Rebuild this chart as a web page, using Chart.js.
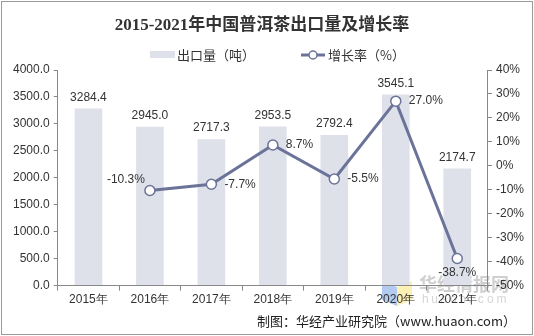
<!DOCTYPE html>
<html>
<head>
<meta charset="utf-8">
<script src="https://cdn.jsdelivr.net/npm/chart.js@4"></script>
<style>
  html, body { margin: 0; padding: 0; background: #fff; }
  canvas { display: block; }
</style>
</head>
<body>
<canvas id="chart" width="534" height="336"></canvas>
<script>
// Data
const years = ['2015年', '2016年', '2017年', '2018年', '2019年', '2020年', '2021年'];
const exportVolume = [3284.4, 2945.0, 2717.3, 2953.5, 2792.4, 3545.1, 2174.7];
const growthRate = [null, -10.3, -7.7, 8.7, -5.5, 27.0, -38.7];
// where each growth label sits relative to its point
const growthLabelPos = ['right', 'leftUp', 'right', 'right', 'right', 'right', 'below'];

const barColor = '#dee1ea';
const lineColor = '#6b7399';
const axisColor = '#888888';
const textColor = '#333333';
const sansFont = '"Liberation Sans", Arial, sans-serif';
const cjkFont = '"Noto Sans CJK SC", sans-serif';

// faint watermark under the axes text
const watermarkPlugin = {
    id: 'watermark',
    beforeDraw(chart) {
        const ctx = chart.ctx;
        ctx.save();
        ctx.fillStyle = '#b3cbf0';
        ctx.beginPath();
        ctx.moveTo(382, 281); ctx.lineTo(397, 287); ctx.lineTo(397, 306); ctx.lineTo(382, 300);
        ctx.closePath(); ctx.fill();
        ctx.fillStyle = '#fcf0b4';
        ctx.beginPath();
        ctx.moveTo(397, 287); ctx.lineTo(412, 281); ctx.lineTo(412, 300); ctx.lineTo(397, 306);
        ctx.closePath(); ctx.fill();
        ctx.fillStyle = '#cfcfcf';
        ctx.font = 'bold 18px ' + cjkFont;
        ctx.textAlign = 'left';
        ctx.textBaseline = 'middle';
        ctx.fillText('华经情报网', 419, 284);
        ctx.font = '12px ' + sansFont;
        ctx.fillStyle = '#d6d6d6';
        'huaon.com'.split('').forEach((ch, i) => ctx.fillText(ch, 422 + i * 9.3, 300));
        ctx.restore();
    }
};

// Title, legend, footer, labels and frame
const decorPlugin = {
    id: 'decor',
    afterDraw(chart) {
        const ctx = chart.ctx;
        ctx.save();
        // frame
        ctx.strokeStyle = '#9a9a9a';
        ctx.lineWidth = 1;
        ctx.strokeRect(1.5, 1.5, 531, 333);

        // title
        ctx.fillStyle = '#333';
        ctx.font = 'bold 17px "Liberation Serif", "Noto Sans CJK SC", serif';
        ctx.textAlign = 'center';
        ctx.textBaseline = 'middle';
        ctx.fillText('2015-2021年中国普洱茶出口量及增长率', 262, 26);

        // legend
        ctx.font = '13px ' + cjkFont;
        ctx.textAlign = 'left';
        ctx.fillStyle = barColor;
        ctx.fillRect(150, 51, 25, 7);
        ctx.fillStyle = textColor;
        ctx.fillText('出口量（吨）', 177, 55);
        ctx.strokeStyle = lineColor;
        ctx.lineWidth = 3;
        ctx.beginPath();
        ctx.moveTo(301, 55);
        ctx.lineTo(325, 55);
        ctx.stroke();
        ctx.fillStyle = '#fff';
        ctx.lineWidth = 1.5;
        ctx.beginPath();
        ctx.arc(313, 55, 4, 0, Math.PI * 2);
        ctx.fill();
        ctx.stroke();
        ctx.fillStyle = textColor;
        ctx.fillText('增长率（%）', 328, 55);

        // bar value labels
        ctx.font = '12px ' + sansFont;
        ctx.textAlign = 'center';
        ctx.textBaseline = 'bottom';
        chart.getDatasetMeta(0).data.forEach((bar, i) => {
            ctx.fillText(exportVolume[i].toFixed(1), bar.x, bar.y - 5);
        });
        // line value labels
        ctx.textBaseline = 'middle';
        chart.getDatasetMeta(1).data.forEach((pt, i) => {
            if (growthRate[i] === null) return;
            const txt = growthRate[i].toFixed(1) + '%';
            const pos = growthLabelPos[i];
            if (pos === 'leftUp') {
                ctx.textAlign = 'right';
                ctx.fillText(txt, pt.x - 5, pt.y - 11);
            } else if (pos === 'below') {
                ctx.textAlign = 'center';
                ctx.fillText(txt, pt.x, pt.y + 14);
            } else {
                ctx.textAlign = 'left';
                ctx.fillText(txt, pt.x + 13, pt.y);
            }
        });

        // footer
        ctx.font = '13px ' + cjkFont;
        ctx.textAlign = 'right';
        ctx.fillStyle = '#222';
        ctx.fillText('制图：华经产业研究院（www.huaon.com）', 516, 321);
        ctx.restore();
    }
};

new Chart(document.getElementById('chart'), {
    type: 'bar',
    data: {
        labels: years,
        datasets: [
            {
                type: 'bar',
                label: '出口量（吨）',
                data: exportVolume,
                backgroundColor: barColor,
                barPercentage: 0.45,
                categoryPercentage: 1,
                yAxisID: 'y',
                order: 2
            },
            {
                type: 'line',
                label: '增长率（%）',
                data: growthRate,
                borderColor: lineColor,
                borderWidth: 3,
                pointRadius: 5,
                pointBorderWidth: 1.5,
                pointBackgroundColor: '#fff',
                pointBorderColor: lineColor,
                tension: 0,
                yAxisID: 'y1',
                order: 1
            }
        ]
    },
    options: {
        responsive: false,
        animation: false,
        layout: { padding: { top: 70, left: 9, right: 6, bottom: 27 } },
        plugins: {
            legend: { display: false },
            title: { display: false },
            tooltip: { enabled: false }
        },
        scales: {
            x: {
                grid: { display: true, drawOnChartArea: false, color: axisColor, tickLength: 5, offset: true },
                border: { color: axisColor },
                ticks: { color: textColor, font: { size: 12, family: sansFont }, padding: 2 }
            },
            y: {
                min: 0,
                max: 4000,
                position: 'left',
                grid: { drawOnChartArea: false, color: axisColor, tickLength: 4 },
                border: { color: axisColor },
                ticks: {
                    stepSize: 500,
                    color: textColor,
                    font: { size: 12, family: sansFont },
                    padding: 4,
                    callback: v => v.toFixed(1)
                }
            },
            y1: {
                min: -50,
                max: 40,
                position: 'right',
                grid: { drawOnChartArea: false, color: axisColor, tickLength: 4 },
                border: { color: axisColor },
                ticks: {
                    stepSize: 10,
                    color: textColor,
                    font: { size: 12, family: sansFont },
                    padding: 4,
                    callback: v => v + '%'
                }
            }
        }
    },
    plugins: [watermarkPlugin, decorPlugin]
});
</script>
</body>
</html>
